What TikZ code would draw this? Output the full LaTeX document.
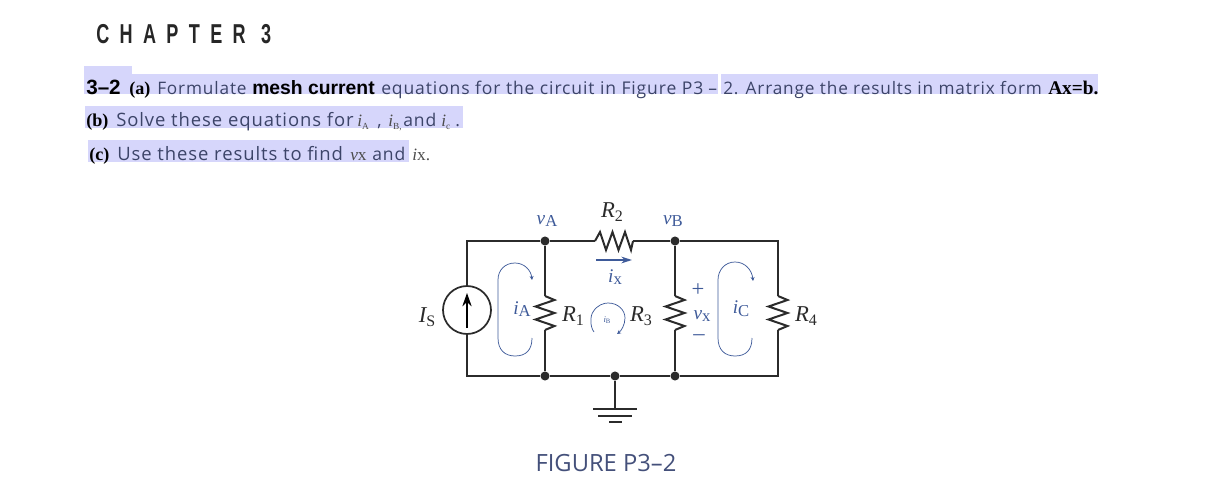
\documentclass[tikz,border=0pt]{standalone}
\usepackage{fontspec}
\setmainfont{Liberation Serif}
\newfontfamily\bodyf[LetterSpace=5]{Open Sans}
\newfontfamily\headf[LetterSpace=38,FakeStretch=0.66]{Liberation Sans}
\newfontfamily\boldf{Liberation Sans}
\newfontfamily\capf{Open Sans}
\usetikzlibrary{arrows.meta}
\definecolor{hl}{HTML}{D6D6FB}
\definecolor{bodyc}{HTML}{3C4468}
\definecolor{circ}{HTML}{2B2B2B}
\definecolor{lab}{HTML}{3E5A99}
\definecolor{capc}{HTML}{44507A}
\newcommand{\blsub}[1]{\raisebox{-2pt}{\fontsize{12.5}{13}\upshape\selectfont #1}}
\newcommand{\dlsub}[1]{\raisebox{-2.5pt}{\fontsize{12}{12}\upshape\selectfont #1}}
\tikzset{
  x=0.75pt,y=-0.75pt,
  hlbox/.style={fill=hl,draw=none},
  txt/.style={inner sep=0pt,anchor=base west,text=bodyc,font=\bodyf\fontsize{13.15}{16}\selectfont},
  txtb/.style={txt,font=\bodyf\fontsize{13.85}{16}\selectfont},
  txtc/.style={txt,font=\bodyf\fontsize{12.9}{16}\selectfont},
  bld/.style={inner sep=0pt,anchor=base west,text=black,font=\rmfamily\bfseries\fontsize{13.6}{14}\selectfont},
  sml/.style={inner sep=0pt,anchor=base west,text=black!70,font=\rmfamily\itshape\fontsize{13}{14}\selectfont},
  wire/.style={draw=circ,line width=1.5pt},
  gnd/.style={draw=circ,line width=1.2pt},
  dot/.style={circle,fill=circ,inner sep=0pt,minimum size=6.8pt},
  blab/.style={inner sep=0pt,text=lab,font=\rmfamily\fontsize{14.5}{16}\selectfont},
  dlab/.style={inner sep=0pt,text=circ,font=\rmfamily\fontsize{17}{18}\selectfont},
  loopc/.style={draw=lab,line width=0.55pt},
  pics/vres/.style={code={\draw[wire,line join=miter] (0,-17) -- (9.5,-13) -- (-9.5,-6.5) -- (9.5,0) -- (-9.5,6.5) -- (9.5,13) -- (0,17);}},
  pics/hres/.style={code={\draw[wire,line join=miter] (-20,0) -- (-15,-9) -- (-9,9) -- (-2.5,-9) -- (3.5,9) -- (10,-9) -- (16,9) -- (18,0);}},
}
\begin{document}
\begin{tikzpicture}
\useasboundingbox (0,0) rectangle (1225,492);
% highlights
\fill[hlbox] (84,66) rectangle (132,94);
\fill[hlbox] (84,74) rectangle (718,94);
\fill[hlbox] (721,74) rectangle (1098,94);
\fill[hlbox] (85,106) rectangle (463,128);
\fill[hlbox] (88,140) rectangle (409,162);
% text
\node[inner sep=0pt,anchor=base west,text=black!85,font=\headf\bfseries\fontsize{20.5}{22}\selectfont] (title) at (96,44) {CHAPTER 3};
\node[inner sep=0pt,anchor=base west,font=\boldf\bfseries\fontsize{15.5}{16}\selectfont] (n32) at (86,94) {3–2};
\node[bld] (a) at (129,94) {(a)};
\node[txtc] (l1a) at (157,94) {Formulate};
\node[inner sep=0pt,anchor=base west,text=black,font=\boldf\bfseries\fontsize{14.5}{16}\selectfont] (mc) at (252,94) {mesh current};
\node[txt] (l1b) at (381,94) {equations for the circuit in Figure P3};
\node[txt] (l1c) at (708,94) {–};
\node[txtc] (l1d) at (723,94) {2. Arrange the results in matrix form};
\node[bld] (ax) at (1048,94) {\fontsize{14.5}{15}\selectfont Ax=b.};
\node[bld] (b) at (86,127) {(b)};
\node[txtb] (l2a) at (116,127) {Solve these equations for};
\node[sml] (ia) at (357,127) {i\raisebox{-2pt}{\fontsize{7}{7}\upshape\selectfont A}};
\node[txt] (c1) at (377,127) {,};
\node[sml] (ib) at (388,127) {i\raisebox{-2pt}{\fontsize{7}{7}\upshape\selectfont B}\raisebox{-2pt}{\upshape\fontsize{7}{7}\selectfont,}};
\node[txt] (l2b) at (403,127) {and};
\node[sml] (ic) at (441,127) {i\raisebox{-2pt}{\fontsize{7}{7}\upshape\selectfont c}};
\node[txt] (p) at (455,127) {.};
\node[bld] (c) at (89,160) {(c)};
\node[txtb] (l3a) at (117,160) {Use these results to find};
\node[sml] (vx) at (350,160) {v\upshape x};
\node[txt] (l3b) at (372,160) {and};
\node[sml] (ix) at (412,160) {i\upshape x.};
% circuit coordinates
\coordinate (TL) at (467,241);
\coordinate (BL) at (467,376);
\node[dot] (VA) at (545,241) {};
\node[dot] (BA) at (545,376) {};
\node[dot] (VB) at (675,241) {};
\node[dot] (BB) at (675,376) {};
\node[dot] (BM) at (615,376) {};
\coordinate (TR) at (778,241);
\coordinate (BR) at (778,376);
\node[circle,draw=circ,line width=1.3pt,minimum size=36pt,inner sep=0pt] (IS) at (467,310) {};
\coordinate (IS1) at (467,328);
\coordinate (IS2) at (467,293);
\coordinate (R2a) at (595,241); \coordinate (R2b) at (633,241);
\coordinate (R1a) at (545,296); \coordinate (R1b) at (545,330);
\coordinate (R3a) at (675,296); \coordinate (R3b) at (675,330);
\coordinate (R4a) at (778,296); \coordinate (R4b) at (778,330);
\coordinate (G) at (615,409);
\coordinate (G1a) at (593,409); \coordinate (G1b) at (637,409);
\coordinate (G2a) at (598,416); \coordinate (G2b) at (632,416);
\coordinate (G3a) at (609,422); \coordinate (G3b) at (622,422);
% wires
\draw[wire] (IS.north) -- (TL) -- (VA) -- (R2a);
\draw[wire] (R2b) -- (VB) -- (TR) -- (R4a);
\draw[wire] (IS.south) -- (BL) -- (BA) -- (BM) -- (BB) -- (BR) -- (R4b);
\draw[wire] (VA) -- (R1a); \draw[wire] (R1b) -- (BA);
\draw[wire] (VB) -- (R3a); \draw[wire] (R3b) -- (BB);
\draw[wire] (BM) -- (G);
\pic at (615,241) {hres};
\pic at (545,313) {vres};
\pic at (675,313) {vres};
\pic at (778,313) {vres};
% ground
\draw[gnd] (G1a) -- (G1b);
\draw[gnd] (G2a) -- (G2b);
\draw[gnd] (G3a) -- (G3b);
% source arrow
\draw[draw=black,line width=1.2pt,-{Stealth[length=10pt,width=7pt]}] (IS1) -- (IS2);
% ix arrow
\coordinate (ixa) at (596,260); \coordinate (ixb) at (632,260);
\draw[draw=lab,line width=1.1pt,-{Stealth[length=8pt,width=5pt]}] (ixa) -- (ixb);
% labels
\node[dlab] (IStxt) at (427,317) {\itshape I\dlsub{S}};
\node[blab] (vAt) at (547,221) {\itshape v\blsub{A}};
\node[dlab] (R2t) at (612,212) {\itshape R\dlsub{2}};
\node[blab] (vBt) at (673,221) {\itshape v\blsub{B}};
\node[blab] (ixt) at (615,277) {\itshape i\blsub{x}};
\node[blab] (iAt) at (522,309) {\itshape i\blsub{A}};
\node[dlab] (R1t) at (573,316) {\itshape R\dlsub{1}};
\node[dlab] (R3t) at (641,316) {\itshape R\dlsub{3}};
\node[dlab] (R4t) at (806,316) {\itshape R\dlsub{4}};
\node[blab] (vxt) at (702,316) {\itshape v\blsub{x}};
\node[blab,font=\rmfamily\fontsize{17}{18}\selectfont] (plus) at (698,290) {+};
\node[blab,font=\rmfamily\fontsize{17}{18}\selectfont] (minus) at (699,338) {–};
\node[blab] (iCt) at (741,309) {\itshape i\blsub{C}};
\node[inner sep=0pt,text=lab,font=\rmfamily\itshape\fontsize{6.5}{7}\selectfont] (iBt) at (607,320) {i\raisebox{-1pt}{\fontsize{5}{5}\upshape\selectfont B}};
\node[inner sep=0pt,text=capc,font=\capf\fontsize{17.8}{18}\selectfont] (fig) at (606,463) {FIGURE P3–2};
% mesh loops
\draw[loopc,-{Stealth[length=3pt,width=3pt]}] (532,338) .. controls (532,350) and (526,356) .. (515,356) .. controls (505,356) and (498,350) .. (498,338) -- (498,280) .. controls (498,270) and (505,263) .. (515,263) .. controls (524,263) and (531,270) .. (532,280);
\draw[loopc,-{Stealth[length=3pt,width=3pt]}] (752,338) .. controls (752,350) and (746,356) .. (735,356) .. controls (725,356) and (718,350) .. (718,338) -- (718,280) .. controls (718,270) and (725,262) .. (735,262) .. controls (745,262) and (752,270) .. (753,281);
\draw[loopc,-{Stealth[length=3pt,width=3pt]}] (594,332) .. controls (590,327) and (590,316) .. (593,312) .. controls (597,305) and (604,303) .. (608,303) .. controls (618,303) and (625,310) .. (625,318) .. controls (625,325) and (621,331) .. (617,334);
\end{tikzpicture}
\end{document}
